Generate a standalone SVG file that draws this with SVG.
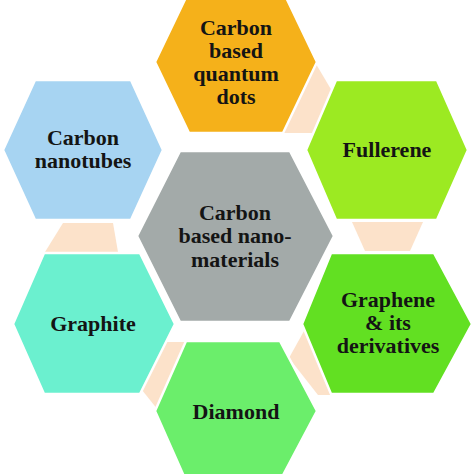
<svg xmlns="http://www.w3.org/2000/svg" width="474" height="474" viewBox="0 0 474 474">
<style>
.hex{stroke:#ffffff;stroke-width:2.5;stroke-linejoin:miter}
.link{fill:#FCE2CA}
text{font-family:"Liberation Serif","Times New Roman",serif;font-weight:bold;font-size:22px;fill:#141414;text-anchor:middle}
</style>
<rect width="474" height="474" fill="#ffffff"/>
<g id="connectors">
<polygon class="link" points="316,64 345,113 340,133 276,133"/>
<polygon class="link" points="352,222 423,222 410,251 365,251"/>
<polygon class="link" points="63,223 113,223 118,252 45,252"/>
<polygon class="link" points="166,342 198,342 158,410 142,390"/>
<polygon class="link" points="289,358 304,331 340,331 336,395 318,395"/>
</g>
<g id="center">
<polygon class="hex" fill="#A3AAA9" points="137,236 180,151 290,151 334,236 290,322 180,322"/>
<text x="235" y="220">Carbon</text>
<text x="235" y="243">based nano-</text>
<text x="235" y="267">materials</text>
</g>
<g id="quantum-dots">
<polygon class="hex" fill="#F5B11A" points="155,62 189,-9 283,-9 317,62 283,133 189,133"/>
<text x="236" y="35">Carbon</text>
<text x="236" y="58">based</text>
<text x="236" y="81">quantum</text>
<text x="236" y="104">dots</text>
</g>
<g id="nanotubes">
<polygon class="hex" fill="#A7D4F2" points="3,150 35,80 131,80 163,150 131,220 35,220"/>
<text x="83" y="145">Carbon</text>
<text x="83" y="168">nanotubes</text>
</g>
<g id="fullerene">
<polygon class="hex" fill="#9CEA22" points="306,150 336,80 437,80 468,150 437,220 336,220"/>
<text x="387" y="157">Fullerene</text>
</g>
<g id="graphite">
<polygon class="hex" fill="#6BF0CF" points="13,324 44,253 140,253 175,324 140,394 44,394"/>
<text x="93" y="331">Graphite</text>
</g>
<g id="graphene">
<polygon class="hex" fill="#62E022" points="302,324 331,253 434,253 472,324 434,394 331,394"/>
<text x="388" y="307">Graphene</text>
<text x="388" y="330">&amp; its</text>
<text x="388" y="353">derivatives</text>
</g>
<g id="diamond">
<polygon class="hex" fill="#6BEE6B" points="155,411 186,341 280,341 317,411 280,481 186,481"/>
<text x="236" y="419">Diamond</text>
</g>
</svg>
